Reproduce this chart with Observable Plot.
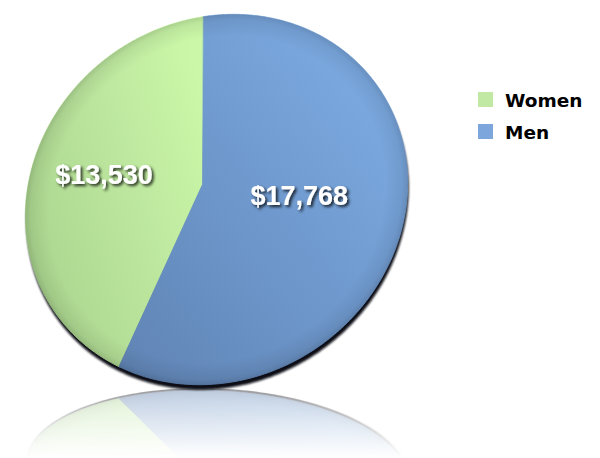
<!DOCTYPE html>
<html><head><meta charset="utf-8">
<script src="https://cdn.jsdelivr.net/npm/d3@7"></script>
<script src="https://cdn.jsdelivr.net/npm/@observablehq/plot@0.6"></script>
<style>
html,body{margin:0;padding:0;background:#fff;}
#wrap{position:relative;width:600px;height:458px;overflow:hidden;background:#fff;}
#wrap svg{position:absolute;left:0;top:0;}
.sw{position:absolute;left:478px;width:15px;height:15px;}
.lt{position:absolute;left:505px;font-family:"DejaVu Sans";font-weight:bold;font-size:18.5px;line-height:18px;color:#000;white-space:nowrap;}
</style></head><body><div id="wrap"></div>
<script>
// ---- data ----
const categories = ["Women", "Men"];
const values = [13530, 17768];

// ---- style ----
const sliceStyle = {
  Women: {grad: "gW", swatch: "#c2e9a4", labelRadius: 0.56, labelDy: 3},
  Men: {grad: "gM", swatch: "#7ca6dc", labelRadius: 0.5, labelDy: 0}
};
// disc drawn as a tilted ellipse seen in perspective (pixel frame)
const C = [216, 199], APEX = [202, 184], TOP = [203, 13];
const AX = 197, BX = 179, TILT = 35.3 * Math.PI / 180;
const e1 = [Math.cos(TILT), -Math.sin(TILT)], f = [-Math.sin(TILT), -Math.cos(TILT)];
const toScreen = ([u, v]) => [C[0] + AX*u*e1[0] + BX*v*f[0], C[1] + AX*u*e1[1] + BX*v*f[1]];
const fromScreen = ([x, y]) => { const dx = x - C[0], dy = y - C[1]; return [(dx*e1[0] + dy*e1[1])/AX, (dx*f[0] + dy*f[1])/BX]; };
function boost(p, q) {
  const b = Math.hypot(p[0], p[1]); if (!b) return q;
  const g = 1/Math.sqrt(1 - b*b), n = [p[0]/b, p[1]/b];
  const qp = q[0]*n[0] + q[1]*n[1];
  const perp = [q[0] - qp*n[0], q[1] - qp*n[1]];
  const w = g*(1 + b*qp), qp2 = g*(qp + b);
  return [(perp[0] + qp2*n[0])/w, (perp[1] + qp2*n[1])/w];
}
const P = fromScreen(APEX);
let T = fromScreen(TOP); { const l = Math.hypot(T[0], T[1]); T = [T[0]/l, T[1]/l]; }
const S = boost([-P[0], -P[1]], T);
const psi = Math.atan2(-S[0], S[1]);
const rot = ([u, v]) => [u*Math.cos(psi) - v*Math.sin(psi), u*Math.sin(psi) + v*Math.cos(psi)];
const project = (q) => toScreen(boost(P, rot(q)));

// ---- pie geometry from data ----
const arcs = d3.pie().sort(null).startAngle(0).endAngle(-2*Math.PI)(values);
const pt = (a, r = 1) => [r*Math.sin(a), r*Math.cos(a)];
function sector(a0, a1) {
  const n = Math.max(8, Math.ceil(Math.abs(a1 - a0) / 0.01));
  const ring = [[0, 0]];
  for (let i = 0; i <= n; i++) ring.push(pt(a0 + (a1 - a0)*i/n));
  ring.push([0, 0]);
  return {type: "Polygon", coordinates: [ring]};
}
const slices = arcs.map((a, i) => ({category: categories[i], value: values[i], geometry: sector(a.startAngle, a.endAngle)}));
const disk = sector(0, -2*Math.PI);
const labels = arcs.map((a, i) => {
  const st = sliceStyle[categories[i]];
  const [x, y] = pt((a.startAngle + a.endAngle)/2, st.labelRadius);
  return {x, y, dy: st.labelDy, text: d3.format("$,")(values[i])};
});

const svg = Plot.plot({
  width: 600, height: 458, margin: 0,
  projection: d3.geoTransform({point(x, y) { const s = project([x, y]); this.stream.point(s[0], s[1]); }}),
  marks: [
    Plot.geo([disk], {fill: "#0b0f16", stroke: "none", dx: 1, dy: 5}),
    ...slices.map(s => Plot.geo([s.geometry], {fill: `url(#${sliceStyle[s.category].grad})`, stroke: `url(#${sliceStyle[s.category].grad})`, strokeWidth: 0.8})),
    Plot.geo([disk], {fill: "url(#rim)", stroke: "none"}),
    ...labels.map(l => Plot.text([l], {x: "x", y: "y", dy: l.dy, text: "text", fill: "white", fontSize: 27, fontWeight: "bold", fontFamily: "Liberation Sans, Arial, sans-serif"}))
  ]
});
svg.style.background = "#fff";

const gt = `matrix(${AX*e1[0]},${AX*e1[1]},${BX*f[0]},${BX*f[1]},${C[0]},${C[1]})`;
const defs = `<defs>
<linearGradient id="gW" x1="0" y1="0.8" x2="1" y2="0.2">
 <stop offset="0" stop-color="#a9d48d"/><stop offset="0.55" stop-color="#bce69e"/><stop offset="1" stop-color="#cbf8a8"/>
</linearGradient>
<linearGradient id="gM" x1="0" y1="1" x2="1" y2="0">
 <stop offset="0" stop-color="#5f83b3"/><stop offset="1" stop-color="#80b0e9"/>
</linearGradient>
<radialGradient id="rim" gradientUnits="userSpaceOnUse" cx="0" cy="0" r="1" gradientTransform="${gt}">
 <stop offset="0.88" stop-color="#000" stop-opacity="0"/><stop offset="0.97" stop-color="#000" stop-opacity="0.07"/><stop offset="1" stop-color="#000" stop-opacity="0.15"/>
</radialGradient>
<filter id="blur" x="-10%" y="-10%" width="120%" height="120%"><feGaussianBlur stdDeviation="1.2"/></filter>
<filter id="ts" x="-20%" y="-40%" width="140%" height="180%"><feDropShadow dx="2" dy="2" stdDeviation="1.4" flood-color="#000" flood-opacity="0.8"/></filter>
<linearGradient id="fadeG" gradientUnits="userSpaceOnUse" x1="0" y1="388" x2="0" y2="458">
 <stop offset="0" stop-color="#fff" stop-opacity="0.42"/><stop offset="1" stop-color="#fff" stop-opacity="0"/>
</linearGradient>
<mask id="fade" maskUnits="userSpaceOnUse" x="0" y="380" width="600" height="80"><rect x="0" y="380" width="600" height="80" fill="url(#fadeG)"/></mask>
</defs>`;
svg.insertAdjacentHTML("afterbegin", defs);

const geoGroups = svg.querySelectorAll('g[aria-label="geo"]');
geoGroups[0].setAttribute("filter", "url(#blur)");
svg.querySelectorAll('g[aria-label="text"]').forEach(g => g.setAttribute("filter", "url(#ts)"));

// reflection of the disc below it
const refl = document.createElementNS("http://www.w3.org/2000/svg", "g");
refl.setAttribute("mask", "url(#fade)");
const inner = document.createElementNS("http://www.w3.org/2000/svg", "g");
inner.setAttribute("transform", "translate(0,563.5) scale(1,-0.45)");
geoGroups.forEach(g => inner.appendChild(g.cloneNode(true)));
refl.appendChild(inner);
svg.querySelector("defs").after(refl);

const wrap = document.getElementById("wrap");
wrap.appendChild(svg);

// legend
categories.forEach((c, i) => {
  const top = 92 + i*32;
  const sw = document.createElement("div");
  sw.className = "sw"; sw.style.top = top + "px"; sw.style.background = sliceStyle[c].swatch;
  const t = document.createElement("div");
  t.className = "lt"; t.style.top = (top - 0.5) + "px"; t.textContent = c;
  wrap.appendChild(sw); wrap.appendChild(t);
});
</script></body></html>
